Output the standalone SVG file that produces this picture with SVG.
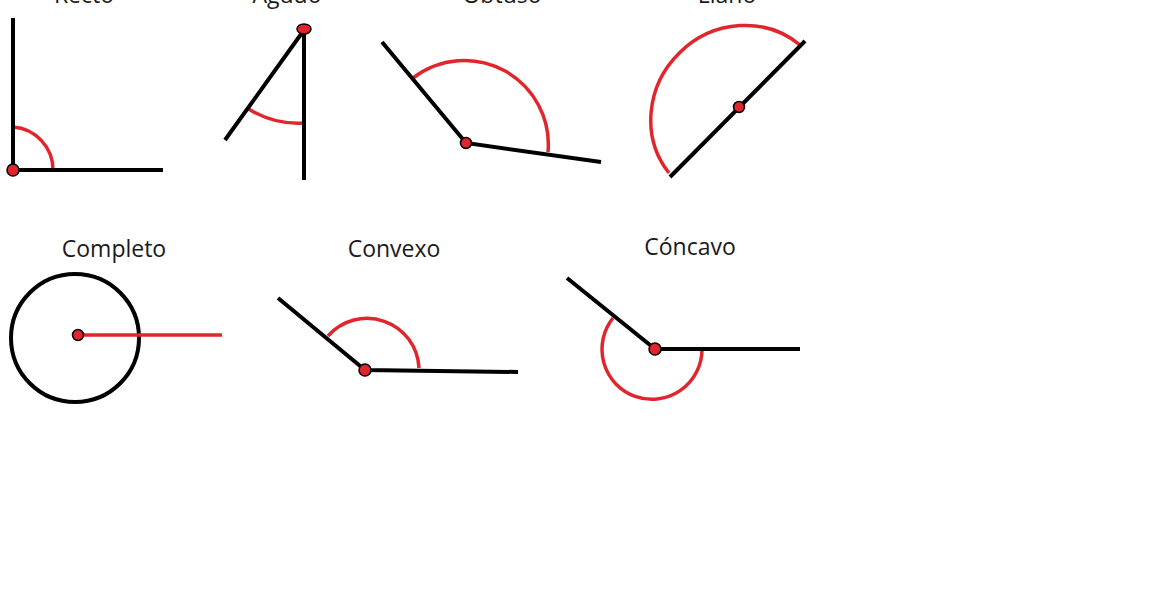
<svg xmlns="http://www.w3.org/2000/svg" width="1152" height="604" viewBox="0 0 1152 604">
<style>
.l{stroke:#000;stroke-width:4;fill:none;stroke-linecap:butt}
.a{stroke:#e0262c;stroke-width:3.5;fill:none}
.d{fill:#e0262c;stroke:#000;stroke-width:1.5}
text{font-family:"Open Sans","Liberation Sans",sans-serif;font-size:23px;fill:#1a1a1a;text-anchor:middle}
</style>
<rect width="1152" height="604" fill="#fff"/>
<g id="recto"><text x="84" y="3">Recto</text>
<path class="a" d="M13 127 A43 43 0 0 1 53 170"/>
<path class="l" d="M13 18 V170 H163"/><circle class="d" cx="13" cy="170" r="6"/></g>
<g id="agudo"><text x="287" y="3">Agudo</text>
<path class="a" d="M247 108 A95 95 0 0 0 304 123"/>
<path class="l" d="M304 30 V180 M304 30 L225 140"/><ellipse class="d" cx="304" cy="29" rx="7" ry="5"/></g>
<g id="obtuso"><text x="502" y="3">Obtuso</text>
<path class="a" d="M413 78 A84 84 0 0 1 548 152"/>
<path class="l" d="M382 42 L466 143 L601 162"/><circle class="d" cx="466" cy="143" r="5.5"/></g>
<g id="llano"><text x="727" y="3">Llano</text>
<path class="a" d="M800 45 A92 87 -45 0 0 669 173"/>
<path class="l" d="M670 177 L805 41"/><circle class="d" cx="739" cy="107" r="5.5"/></g>
<g id="completo"><text x="114" y="257">Completo</text>
<circle class="l" cx="75" cy="338" r="64" stroke-width="3.5"/>
<path class="a" d="M78 335 H222"/><circle class="d" cx="78" cy="335" r="5.5"/></g>
<g id="convexo"><text x="394" y="257">Convexo</text>
<path class="a" d="M328 336 A52 52 0 0 1 419 368"/>
<path class="l" d="M278 298 L365 370 L518 372"/><circle class="d" cx="365" cy="370" r="6"/></g>
<g id="concavo"><text x="690" y="255">Cóncavo</text>
<path class="a" d="M613 318 A50 50 0 1 0 702 350"/>
<path class="l" d="M567 278 L655 349 H800"/><circle class="d" cx="655" cy="349" r="6"/></g>
</svg>
